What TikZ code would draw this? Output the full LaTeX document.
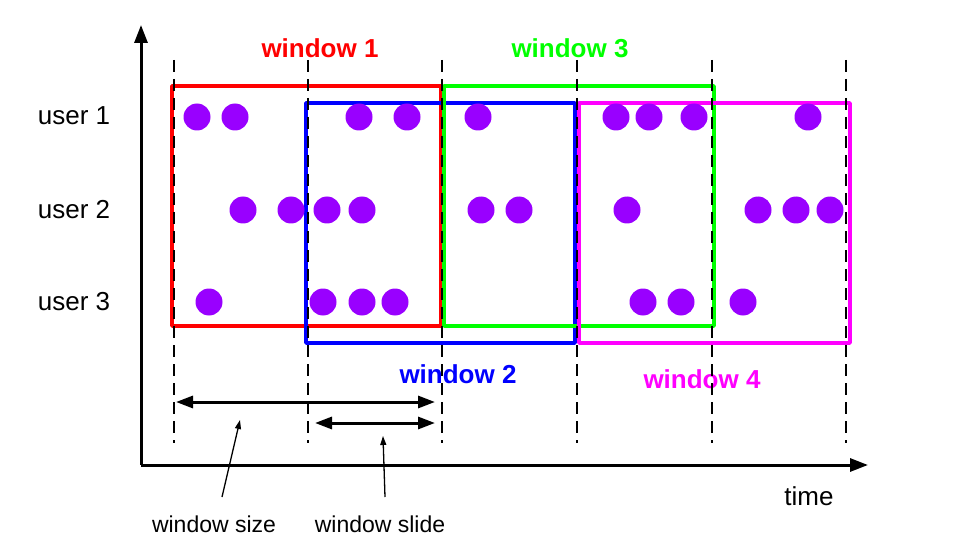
\documentclass[tikz,border=0pt]{standalone}
\usepackage{fontspec}
\setmainfont{Liberation Sans}
\usetikzlibrary{arrows.meta}
\definecolor{wred}{HTML}{FF0000}
\definecolor{wgreen}{HTML}{00FF00}
\definecolor{wblue}{HTML}{0000FF}
\definecolor{wmag}{HTML}{FF00FF}
\definecolor{evpurple}{HTML}{9900FF}
\tikzset{
  winbox/.style={line width=3.5pt, line join=round},
  evdot/.style={circle, fill=evpurple, inner sep=0pt, minimum size=27pt},
  tickline/.style={line width=2.5pt, dash pattern=on 12pt off 7pt},
  axisline/.style={line width=3pt, -{Triangle[length=18pt,width=13pt]}},
  spanarrow/.style={line width=3pt, {Triangle[length=17pt,width=12pt]}-{Triangle[length=17pt,width=12pt]}},
  pointer/.style={line width=1.3pt, -{Triangle[length=9pt,width=6pt]}},
  userlab/.style={inner sep=0pt, font=\fontsize{26}{30}\selectfont},
  winlab/.style={inner sep=0pt, font=\fontsize{26}{30}\selectfont\bfseries},
  smalllab/.style={inner sep=0pt, font=\fontsize{23}{27}\selectfont},
}
\begin{document}
\begin{tikzpicture}[x=1pt,y=-1pt]
\useasboundingbox[fill=white] (0,0) rectangle (954,559);

% window rectangles
\draw[winbox, wred]   (172,86)  rectangle (441,326);
\draw[winbox, wblue]  (306,103) rectangle (575,343);
\draw[winbox, wgreen] (444,86)  rectangle (714,326);
\draw[winbox, wmag]   (579,103) rectangle (850,343);

% events
\foreach \x [count=\i] in {197,235,359,407,478,616,649,694,808}
  \node[evdot] (ua\i) at (\x,117) {};
\foreach \x [count=\i] in {243,291,327,362,481,519,627,758,796,830}
  \node[evdot] (ub\i) at (\x,210) {};
\foreach \x [count=\i] in {209,323,362,395,643,681,743}
  \node[evdot] (uc\i) at (\x,302) {};

% window labels
\node[winlab, wred]   (w1) at (320,48)  {window 1};
\node[winlab, wgreen] (w3) at (570,48)  {window 3};
\node[winlab, wblue]  (w2) at (458,374) {window 2};
\node[winlab, wmag]   (w4) at (702,379) {window 4};

% dashed time ticks
\foreach \x [count=\i] in {174,308,442,577,712,846} {
  \coordinate (tt\i) at (\x,60);
  \coordinate (tb\i) at (\x,443);
  \draw[tickline] (tt\i) -- (tb\i);
}

% axes
\coordinate (org) at (141,465);
\coordinate (ytop) at (141,25);
\coordinate (xend) at (868,465);
\draw[axisline] (org) -- (ytop);
\draw[axisline] (org) -- (xend);

% user labels
\node[userlab] (u1) at (74,116) {user 1};
\node[userlab] (u2) at (74,210) {user 2};
\node[userlab] (u3) at (74,302) {user 3};
\node[userlab] (tm) at (809,496) {time};

% span arrows
\coordinate (sa) at (176,402);
\coordinate (sb) at (435,402);
\coordinate (sc) at (315,423);
\coordinate (sd) at (435,423);
\draw[spanarrow] (sa) -- (sb);
\draw[spanarrow] (sc) -- (sd);

% pointer labels
\node[smalllab] (ws) at (214,524) {window size};
\node[smalllab] (wl) at (380,524) {window slide};
\coordinate (p1s) at (222,497);
\coordinate (p1e) at (240,420);
\coordinate (p2s) at (385,497);
\coordinate (p2e) at (383,436);
\draw[pointer] (p1s) -- (p1e);
\draw[pointer] (p2s) -- (p2e);
\end{tikzpicture}
\end{document}
